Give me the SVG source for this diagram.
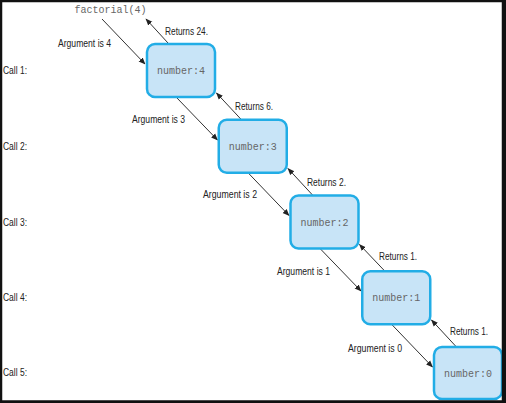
<svg xmlns="http://www.w3.org/2000/svg" width="506" height="403" viewBox="0 0 506 403">
<defs>
<marker id="ah" viewBox="0 0 10 10" refX="9" refY="5" markerWidth="7" markerHeight="7" markerUnits="userSpaceOnUse" orient="auto">
<path d="M0,1 L10,5 L0,9 z" fill="#222"/>
</marker>
<style>
.box{fill:#c8e4f7;stroke:#22ade6;stroke-width:2.5}
.mono{font-family:"Liberation Mono",monospace;font-size:10px;fill:#666;text-anchor:middle}
.lbl{font-family:"Liberation Sans",Arial,sans-serif;font-size:10px;fill:#222}
.conn line{stroke:#333;stroke-width:1;marker-end:url(#ah)}
</style>
</defs>
<rect x="0" y="0" width="506" height="403" fill="#fff"/>
<text class="mono" x="110.5" y="13">factorial(4)</text>
<g class="labels">
<text class="lbl" x="3" y="74" textLength="24" lengthAdjust="spacingAndGlyphs">Call 1:</text>
<text class="lbl" x="3" y="150" textLength="24" lengthAdjust="spacingAndGlyphs">Call 2:</text>
<text class="lbl" x="3" y="226" textLength="24" lengthAdjust="spacingAndGlyphs">Call 3:</text>
<text class="lbl" x="3" y="301" textLength="24" lengthAdjust="spacingAndGlyphs">Call 4:</text>
<text class="lbl" x="3" y="376" textLength="24" lengthAdjust="spacingAndGlyphs">Call 5:</text>
<text class="lbl" x="58" y="47" textLength="53" lengthAdjust="spacingAndGlyphs">Argument is 4</text>
<text class="lbl" x="132" y="123" textLength="53" lengthAdjust="spacingAndGlyphs">Argument is 3</text>
<text class="lbl" x="203" y="198" textLength="54" lengthAdjust="spacingAndGlyphs">Argument is 2</text>
<text class="lbl" x="277" y="275" textLength="53" lengthAdjust="spacingAndGlyphs">Argument is 1</text>
<text class="lbl" x="348" y="352" textLength="54" lengthAdjust="spacingAndGlyphs">Argument is 0</text>
<text class="lbl" x="165" y="35" textLength="43" lengthAdjust="spacingAndGlyphs">Returns 24.</text>
<text class="lbl" x="235" y="110" textLength="38" lengthAdjust="spacingAndGlyphs">Returns 6.</text>
<text class="lbl" x="307" y="186" textLength="39" lengthAdjust="spacingAndGlyphs">Returns 2.</text>
<text class="lbl" x="379" y="260" textLength="38" lengthAdjust="spacingAndGlyphs">Returns 1.</text>
<text class="lbl" x="450" y="335" textLength="38" lengthAdjust="spacingAndGlyphs">Returns 1.</text>
</g>
<g class="conn">
<line x1="102" y1="19" x2="145" y2="64"/>
<line x1="168" y1="43" x2="146" y2="19"/>
<line x1="177" y1="98" x2="217.5" y2="140"/>
<line x1="240.75" y1="119" x2="216.5" y2="93"/>
<line x1="248.75" y1="173.5" x2="289" y2="215.5"/>
<line x1="312.5" y1="195" x2="288" y2="168.5"/>
<line x1="320.5" y1="249" x2="361" y2="291"/>
<line x1="384.25" y1="270.5" x2="359.5" y2="244.5"/>
<line x1="392.25" y1="325" x2="432.5" y2="367"/>
<line x1="456" y1="346.5" x2="431.5" y2="320"/>
</g>
<g id="call1"><rect class="box" x="147" y="44" width="68" height="53" rx="8"/><text class="mono" x="181" y="74">number:4</text></g>
<g id="call2"><rect class="box" x="218.75" y="119.75" width="68" height="53" rx="8"/><text class="mono" x="252.75" y="149.75">number:3</text></g>
<g id="call3"><rect class="box" x="290.5" y="195.5" width="68" height="53" rx="8"/><text class="mono" x="324.5" y="225.5">number:2</text></g>
<g id="call4"><rect class="box" x="362.25" y="271.25" width="68" height="53" rx="8"/><text class="mono" x="396.25" y="301.25">number:1</text></g>
<g id="call5"><rect class="box" x="434" y="347" width="68" height="52" rx="8"/><text class="mono" x="468" y="377">number:0</text></g>
<rect x="1" y="1" width="502" height="400.5" fill="none" stroke="#111" stroke-width="2.5"/>
<line x1="504.5" y1="0" x2="504.5" y2="403" stroke="#111" stroke-width="3"/>
<line x1="0" y1="402.5" x2="506" y2="402.5" stroke="#111" stroke-width="1.5"/>
</svg>
